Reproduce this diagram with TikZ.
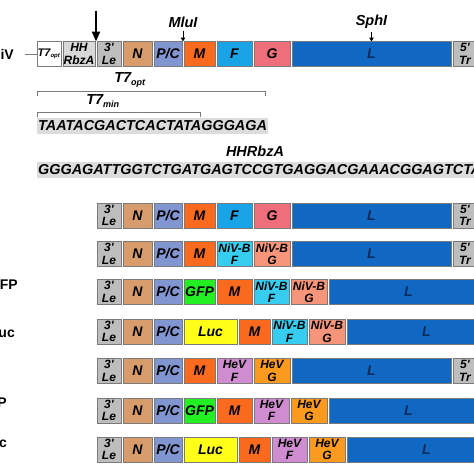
\documentclass[tikz,border=0pt]{standalone}
\usepackage{fontspec}
\setmainfont{Liberation Sans}
\usetikzlibrary{positioning,arrows.meta,calc}

\definecolor{leGray}{HTML}{BDBDBD}
\definecolor{hhGray}{HTML}{D9D9D9}
\definecolor{nTan}{HTML}{D89C6C}
\definecolor{pcBlue}{HTML}{8195D0}
\definecolor{mOrange}{HTML}{FA6A1E}
\definecolor{fBlue}{HTML}{1AA3E6}
\definecolor{gPink}{HTML}{EE6F7B}
\definecolor{lBlue}{HTML}{1168C2}
\definecolor{lNavy}{HTML}{0B2A5C}
\definecolor{nivF}{HTML}{36CDF0}
\definecolor{nivG}{HTML}{F6957A}
\definecolor{hevF}{HTML}{D08CD0}
\definecolor{hevG}{HTML}{FA9A1E}
\definecolor{gfpGreen}{HTML}{22F022}
\definecolor{lucYellow}{HTML}{FFFF1A}
\definecolor{seqGray}{HTML}{DCDCDC}
\definecolor{boxLine}{HTML}{7A7A7A}

\begin{document}
\begin{tikzpicture}[
        x=1pt, y=-1pt,
        node distance=2pt,
        every node/.style={font=\bfseries\itshape\fontsize{14.5}{14.5}\selectfont},
        gene/.style={
            draw=boxLine,
            line width=0.6pt,
            minimum height=25pt,
            inner sep=0pt,
            outer sep=0pt,
            font=\bfseries\itshape\fontsize{14}{14}\selectfont
        },
        two/.style={align=center, font=\bfseries\itshape\fontsize{12}{12.5}\selectfont},
        le/.style={gene, two, fill=leGray, minimum width=24pt},
        trbox/.style={gene, two, fill=leGray, minimum width=24pt},
        hhbox/.style={gene, two, fill=hhGray, minimum width=32pt},
        nbox/.style={gene, fill=nTan, minimum width=29pt},
        pcbox/.style={gene, fill=pcBlue, minimum width=28pt},
        mbox/.style={gene, fill=mOrange, minimum width=31pt},
        fbox/.style={gene, fill=fBlue, minimum width=35pt},
        gbox/.style={gene, fill=gPink, minimum width=36pt},
        lbox/.style={gene, fill=lBlue, text=lNavy, minimum width=159pt},
        gfpbox/.style={gene, fill=gfpGreen, minimum width=31pt},
        lucbox/.style={gene, fill=lucYellow, minimum width=53pt},
        nivf/.style={gene, two, fill=nivF, minimum width=35pt},
        nivg/.style={gene, two, fill=nivG, minimum width=36pt},
        hevf/.style={gene, two, fill=hevF, minimum width=35pt},
        hevg/.style={gene, two, fill=hevG, minimum width=36pt},
        seq/.style={fill=seqGray, anchor=west, inner xsep=1pt, inner ysep=0pt,
            minimum height=16pt, font=\bfseries\itshape\fontsize{14.4}{14.4}\selectfont},
        sidelabel/.style={anchor=east, inner sep=0pt, font=\bfseries\fontsize{14}{14}\selectfont},
        bracket/.style={draw=boxLine, line width=0.7pt},
        smallarrow/.style={line width=1pt, -{Triangle[length=4pt,width=4.5pt]}}
    ]
    \useasboundingbox (0,0) rectangle (474,474);
    \clip (0,0) rectangle (474,474);

    % full-length construct
    \node[sidelabel] (lbl0) at (14,54) {NiV};
    \node[gene, fill=white, minimum width=24pt, anchor=west] (t7) at (37,54)
        {\fontsize{11}{11}\selectfont T7\textsubscript{\fontsize{6}{6}\selectfont opt}};
    \coordinate (lead) at (25,54);
    \draw[boxLine, line width=0.6pt] (lead) -- (t7);
    \node[hhbox, right=of t7] (hh) {HH\\RbzA};
    \node[le, right=of hh] (le0) {3\textquotesingle\\Le};
    \node[nbox, right=of le0] (n0) {N};
    \node[pcbox, right=of n0] (pc0) {P/C};
    \node[mbox, right=of pc0] (m0) {M};
    \node[fbox, right=of m0] (f0) {F};
    \node[gbox, right=of f0] (g0) {G};
    \node[lbox, right=of g0] (l0) {L};
    \node[trbox, right=of l0] (tr0) {5\textquotesingle\\Tr};

    % cut sites
    \coordinate (cut) at ($(hh.north east)!0.5!(le0.north west)$);
    \coordinate (cuttop) at ($(cut)+(0,-31)$);
    \draw[line width=2pt, -{Triangle[length=10pt,width=8pt]}] (cuttop) -- (cut);
    \node (mlui) at (183,22) {MluI};
    \coordinate (mlusite) at ($(pc0.north east)!0.5!(m0.north west)$);
    \draw[smallarrow] (mlui) -- (mlusite);
    \node (sphi) at (l0.north |- mlui) {SphI};
    \draw[smallarrow] (sphi) -- (l0);

    % promoter brackets and sequences
    \node (t7optlbl) at (130,80) {T7\textsubscript{\fontsize{9}{9}\selectfont opt}};
    \coordinate (optL) at (37,91);
    \coordinate (optR) at (265,91);
    \coordinate (optLd) at (37,96);
    \coordinate (optRd) at (265,96);
    \draw[bracket] (optLd) -- (optL) -- (optR) -- (optRd);
    \node (t7minlbl) at (103,101) {T7\textsubscript{\fontsize{9}{9}\selectfont min}};
    \coordinate (minL) at (37,112);
    \coordinate (minR) at (200,112);
    \coordinate (minLd) at (37,117);
    \coordinate (minRd) at (200,117);
    \draw[bracket] (minLd) -- (minL) -- (minR) -- (minRd);
    \node[seq] (seqt7) at (37,126) {TAATACGACTCACTATAGGGAGA};
    \node (hhlbl) at (255,151) {HHRbzA};
    \node[seq, text width=460pt] (seqhh) at (37,170) {GGGAGATTGGTCTGATGAGTCCGTGAGGACGAAACGGAGTCTA};

    % common 3' part of the rescue constructs
    \foreach \r/\y in {a/215.5, b/254, c/292, d/331.5, e/371, f/410.5, g/449.5} {
        \node[le, anchor=west] (le\r) at (97,\y) {3\textquotesingle\\Le};
        \node[nbox, right=of le\r] (n\r) {N};
        \node[pcbox, right=of n\r] (pc\r) {P/C};
    }

    % row a
    \node[mbox, right=of pca] (ma) {M};
    \node[fbox, right=of ma] (fa) {F};
    \node[gbox, right=of fa] (ga) {G};
    \node[lbox, right=of ga] (la) {L};
    \node[trbox, right=of la] (tra) {5\textquotesingle\\Tr};

    % row b
    \node[mbox, right=of pcb] (mb) {M};
    \node[nivf, right=of mb] (fb) {NiV-B\\F};
    \node[nivg, right=of fb] (gb) {NiV-B\\G};
    \node[lbox, right=of gb] (lb) {L};
    \node[trbox, right=of lb] (trb) {5\textquotesingle\\Tr};

    % row c
    \node[sidelabel] (lblc) at (18,285) {GFP};
    \node[gfpbox, right=of pcc] (gfpc) {GFP};
    \node[mbox, minimum width=35pt, right=of gfpc] (mc) {M};
    \node[nivf, right=of mc] (fc) {NiV-B\\F};
    \node[nivg, right=of fc] (gc) {NiV-B\\G};
    \node[lbox, right=of gc] (lc) {L};

    % row d
    \node[sidelabel] (lbld) at (15,333) {Luc};
    \node[lucbox, right=of pcd] (lucd) {Luc};
    \node[mbox, right=of lucd] (md) {M};
    \node[nivf, right=of md] (fd) {NiV-B\\F};
    \node[nivg, right=of fd] (gd) {NiV-B\\G};
    \node[lbox, right=of gd] (ld) {L};

    % row e
    \node[mbox, right=of pce] (me) {M};
    \node[hevf, right=of me] (fe) {HeV\\F};
    \node[hevg, right=of fe] (ge) {HeV\\G};
    \node[lbox, right=of ge] (le) {L};
    \node[trbox, right=of le] (tre) {5\textquotesingle\\Tr};

    % row f
    \node[sidelabel] (lblf) at (7,403) {GFP};
    \node[gfpbox, right=of pcf] (gfpf) {GFP};
    \node[mbox, minimum width=35pt, right=of gfpf] (mf) {M};
    \node[hevf, right=of mf] (ff) {HeV\\F};
    \node[hevg, right=of ff] (gf) {HeV\\G};
    \node[lbox, right=of gf] (lf) {L};

    % row g
    \node[sidelabel] (lblg) at (7,443) {Luc};
    \node[lucbox, right=of pcg] (lucg) {Luc};
    \node[mbox, right=of lucg] (mg) {M};
    \node[hevf, right=of mg] (fg) {HeV\\F};
    \node[hevg, right=of fg] (gg) {HeV\\G};
    \node[lbox, right=of gg] (lg) {L};
\end{tikzpicture}
\end{document}
